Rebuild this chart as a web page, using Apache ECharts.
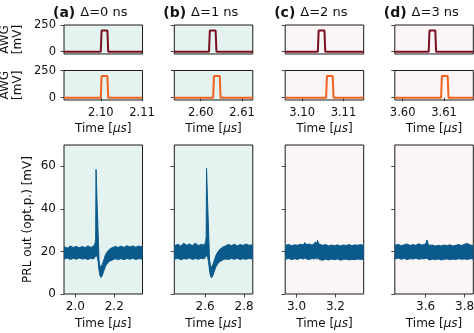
<!DOCTYPE html>
<html><head><meta charset="utf-8">
<script src="https://cdn.jsdelivr.net/npm/echarts@6/dist/echarts.min.js"></script>
<style>html,body{margin:0;padding:0;background:#fff}#c{width:474px;height:333px}</style>
</head><body><div id="c"></div>
<script>
// ---------- data ----------
const panelTags = ['(a)', '(b)', '(c)', '(d)'];
const deltaTexts = ['\u0394=0 ns', '\u0394=1 ns', '\u0394=2 ns', '\u0394=3 ns'];

// AWG zoom window (µs) and tick labels
const awgXMin = [2.0911, 2.5936, 3.0959, 3.5981];
const awgXMax = [2.1101, 2.6126, 3.1149, 3.6171];
const awgTicks = [[2.10, 2.11], [2.60, 2.61], [3.10, 3.11], [3.60, 3.61]];
const awgYTicks = [0, 250];

// AWG channel 1 (dark red) pulses: [time µs, mV]
const awgTopA = [[2.0911, 0], [2.1000, 0], [2.1002, 200], [2.1016, 200], [2.1018, 0], [2.1101, 0]];
const awgTopB = [[2.5936, 0], [2.6020, 0], [2.6022, 200], [2.6036, 200], [2.6038, 0], [2.6126, 0]];
const awgTopC = [[3.0959, 0], [3.1038, 0], [3.1040, 200], [3.1054, 200], [3.1056, 0], [3.1149, 0]];
const awgTopD = [[3.5981, 0], [3.6063, 0], [3.6065, 200], [3.6079, 200], [3.6081, 0], [3.6171, 0]];
// AWG channel 2 (orange) pulses
const awgBotA = [[2.0911, 0], [2.1000, 0], [2.1002, 200], [2.1016, 200], [2.1018, 0], [2.1101, 0]];
const awgBotB = [[2.5936, 0], [2.6030, 0], [2.6032, 200], [2.6046, 200], [2.6048, 0], [2.6126, 0]];
const awgBotC = [[3.0959, 0], [3.1058, 0], [3.1060, 200], [3.1074, 200], [3.1076, 0], [3.1149, 0]];
const awgBotD = [[3.5981, 0], [3.6093, 0], [3.6095, 200], [3.6109, 200], [3.6111, 0], [3.6171, 0]];

// PRL output windows
const sigXMin = [1.942, 2.442, 2.942, 3.442];
const sigXMax = [2.345, 2.845, 3.345, 3.845];
const sigTicks = [[2.0, 2.2], [2.6, 2.8], [3.0, 3.2], [3.6, 3.8]];
const sigYTicks = [0, 20, 40, 60];

// PRL output trace: time, lower and upper envelope of the noisy trace (mV)
const sigTimeA = [1.942, 1.96, 1.975, 1.99, 2.005, 2.02, 2.035, 2.05, 2.065, 2.08, 2.09, 2.098, 2.102, 2.1045, 2.1065, 2.112, 2.117, 2.122, 2.127, 2.132, 2.138, 2.145, 2.155, 2.165, 2.175, 2.19, 2.205, 2.22, 2.235, 2.25, 2.265, 2.28, 2.295, 2.31, 2.325, 2.345];
const sigHiA = [22.2, 21.6, 22.5, 21.9, 22.4, 21.7, 22.3, 21.8, 22.6, 21.9, 22.3, 23.0, 24.0, 26.0, 58.5, 42.4, 29.0, 15.6, 13.0, 12.7, 13.8, 15.6, 18.5, 20.0, 21.0, 21.8, 22.3, 21.9, 22.5, 21.9, 22.7, 22.1, 22.6, 22.0, 22.5, 22.2];
const sigLoA = [16.4, 16.9, 16.2, 16.8, 16.3, 16.9, 16.4, 16.7, 16.2, 16.8, 16.5, 16.8, 17.5, 18.0, 18.0, 17.5, 15.5, 11.0, 8.6, 7.8, 8.6, 10.5, 13.0, 14.5, 15.3, 16.0, 16.6, 16.2, 16.6, 16.1, 16.7, 16.3, 16.8, 16.2, 16.6, 16.4];

const sigTimeB = [2.442, 2.46, 2.475, 2.49, 2.505, 2.52, 2.535, 2.55, 2.565, 2.58, 2.59, 2.599, 2.603, 2.6055, 2.6075, 2.613, 2.618, 2.623, 2.628, 2.633, 2.639, 2.646, 2.656, 2.666, 2.676, 2.69, 2.705, 2.72, 2.735, 2.75, 2.765, 2.78, 2.795, 2.81, 2.825, 2.845];
const sigHiB = [22.6, 23.4, 22.5, 23.8, 22.9, 23.5, 22.7, 23.9, 22.8, 23.3, 23.0, 23.5, 24.5, 27.0, 59.0, 43.0, 29.5, 16.0, 13.2, 12.8, 13.6, 15.4, 18.2, 19.8, 21.0, 22.0, 22.6, 23.3, 22.7, 23.4, 22.6, 23.2, 22.8, 23.5, 22.9, 23.1];
const sigLoB = [16.3, 16.8, 16.1, 16.6, 16.4, 16.9, 16.2, 16.7, 16.3, 16.8, 16.5, 16.9, 17.6, 18.0, 18.0, 17.4, 15.2, 10.8, 8.4, 7.6, 8.4, 10.3, 12.8, 14.3, 15.2, 16.0, 16.5, 16.2, 16.7, 16.3, 16.8, 16.2, 16.6, 16.3, 16.7, 16.4];

const sigTimeC = [2.943, 2.96, 2.975, 2.99, 3.005, 3.02, 3.035, 3.042, 3.05, 3.065, 3.08, 3.09, 3.097, 3.103, 3.108, 3.113, 3.12, 3.135, 3.15, 3.165, 3.18, 3.195, 3.21, 3.225, 3.24, 3.255, 3.27, 3.285, 3.30, 3.315, 3.33, 3.345];
const sigHiC = [22.8, 23.3, 22.7, 23.1, 22.9, 23.4, 23.0, 24.2, 23.2, 23.5, 23.0, 23.6, 24.5, 23.4, 25.2, 24.0, 23.3, 22.9, 23.2, 22.6, 23.0, 22.7, 23.1, 22.6, 23.0, 22.8, 23.2, 22.7, 23.1, 22.9, 23.2, 22.8];
const sigLoC = [16.3, 16.7, 16.1, 16.6, 16.2, 16.8, 16.4, 16.9, 16.5, 16.2, 16.7, 16.4, 16.8, 16.5, 16.9, 16.4, 16.1, 15.9, 16.3, 16.0, 16.4, 16.1, 16.5, 15.9, 16.2, 16.4, 16.0, 16.3, 16.1, 16.5, 16.2, 16.4];

const sigTimeD = [3.443, 3.46, 3.475, 3.49, 3.505, 3.52, 3.535, 3.55, 3.565, 3.58, 3.595, 3.603, 3.608, 3.613, 3.62, 3.635, 3.65, 3.665, 3.68, 3.695, 3.71, 3.725, 3.74, 3.755, 3.77, 3.785, 3.80, 3.815, 3.83, 3.845];
const sigHiD = [22.9, 23.3, 22.7, 23.1, 23.5, 22.8, 23.2, 22.9, 23.6, 23.0, 23.3, 24.2, 25.4, 23.6, 22.9, 23.0, 22.5, 22.9, 22.6, 23.0, 22.7, 23.1, 22.6, 22.9, 23.2, 22.8, 23.4, 23.7, 23.0, 22.8];
const sigLoD = [16.5, 16.9, 16.3, 16.7, 16.2, 16.6, 16.4, 16.8, 16.3, 16.6, 16.5, 16.9, 16.7, 16.3, 16.0, 16.4, 16.1, 16.5, 16.0, 16.3, 16.5, 16.1, 16.4, 16.2, 16.6, 16.3, 16.5, 16.2, 16.6, 16.4];

// ---------- layout / style ----------
const awgTopSeries = [awgTopA, awgTopB, awgTopC, awgTopD];
const awgBotSeries = [awgBotA, awgBotB, awgBotC, awgBotD];
const sigTimes = [sigTimeA, sigTimeB, sigTimeC, sigTimeD];
const sigHis = [sigHiA, sigHiB, sigHiC, sigHiD];
const sigLos = [sigLoA, sigLoB, sigLoC, sigLoD];

const LEFTS = [64, 174.3, 285.2, 394.8];
const W = 78.5;
const BG = ['#e4f3ef', '#e4f3ef', '#fcf5f6', '#fcf5f6'];
const FRAME = '#1a1a1a';
const TXT = '#111';
const FONT = 'DejaVu Sans';
const C_TOP = '#7a0f1f', C_BOT = '#f0621e', C_SIG = '#0b5a8c';
const ROWS = [{top: 25, h: 29}, {top: 70.5, h: 29.5}, {top: 145, h: 149}];

const grids = [], xAxes = [], yAxes = [], series = [], titles = [];
const timeName = 'Time [{i|\u03bcs}]';
const nameRich = {i: {fontStyle: 'italic', fontFamily: FONT, fontSize: 12, color: TXT}};

function bandRenderer(c) {
  return function (params, api) {
    if (params.dataIndex !== 0) return null;
    const t = sigTimes[c], lo = sigLos[c], hi = sigHis[c];
    const pts = [];
    for (let i = 0; i < t.length; i++) pts.push(api.coord([t[i], hi[i]]));
    for (let i = t.length - 1; i >= 0; i--) pts.push(api.coord([t[i], lo[i]]));
    return {type: 'polygon', shape: {points: pts},
      style: {fill: C_SIG, stroke: C_SIG, lineWidth: 1, lineJoin: 'miter'},
      clipPath: {type: 'rect', shape: {x: params.coordSys.x, y: params.coordSys.y,
        width: params.coordSys.width, height: params.coordSys.height}}};
  };
}

for (let r = 0; r < 3; r++) {
  for (let c = 0; c < 4; c++) {
    const gi = r * 4 + c;
    grids.push({left: LEFTS[c], top: ROWS[r].top, width: W, height: ROWS[r].h,
      show: true, backgroundColor: BG[c], borderColor: FRAME, borderWidth: 1, outerBoundsMode: 'none'});
    const isSig = r === 2;
    const xa = {type: 'value', gridIndex: gi,
      min: isSig ? sigXMin[c] : awgXMin[c], max: isSig ? sigXMax[c] : awgXMax[c],
      splitLine: {show: false}, axisLine: {show: false},
      axisTick: {show: false}, axisLabel: {show: false}};
    if (r >= 1) {
      const tv = isSig ? sigTicks[c] : awgTicks[c];
      xa.axisTick = {show: true, inside: false, length: 3.5, lineStyle: {color: FRAME, width: 0.8}, customValues: tv};
      xa.axisLabel = {show: true, customValues: tv, margin: 7, color: TXT, fontFamily: FONT, fontSize: isSig ? 12 : 11.5,
        formatter: v => v.toFixed(isSig ? 1 : 2)};
      xa.name = timeName;
      xa.nameLocation = 'middle';
      xa.nameGap = isSig ? 24 : 23;
      xa.nameTextStyle = {color: TXT, fontFamily: FONT, fontSize: 12, rich: nameRich};
    }
    xAxes.push(xa);
    const ya = {type: 'value', gridIndex: gi,
      min: isSig ? 0 : -22, max: isSig ? 70 : 252,
      splitLine: {show: false}, axisLine: {show: false},
      axisTick: {show: true, inside: false, length: 3.5, lineStyle: {color: FRAME, width: 0.8},
        customValues: isSig ? sigYTicks : awgYTicks},
      axisLabel: {show: c === 0, customValues: isSig ? sigYTicks : awgYTicks, margin: 8,
        color: TXT, fontFamily: FONT, fontSize: isSig ? 12 : 11.5}};
    if (c === 0) {
      ya.name = isSig ? 'PRL out (opt.p.) [mV]' : 'AWG\n[mV]';
      ya.nameLocation = 'middle';
      ya.nameRotate = 90;
      ya.nameGap = isSig ? 30 : 40;
      ya.nameTextStyle = {color: TXT, fontFamily: FONT, fontSize: 12, lineHeight: 13};
    }
    yAxes.push(ya);

    if (r === 0 || r === 1) {
      series.push({type: 'line', xAxisIndex: gi, yAxisIndex: gi, symbol: 'none', silent: true,
        data: (r === 0 ? awgTopSeries : awgBotSeries)[c],
        lineStyle: {color: r === 0 ? C_TOP : C_BOT, width: 2}, z: 3});
    } else {
      const t = sigTimes[c], lo = sigLos[c], hi = sigHis[c];
      series.push({type: 'custom', xAxisIndex: gi, yAxisIndex: gi, silent: true,
        data: t.map((x, i) => [x, lo[i], hi[i]]),
        encode: {x: 0, y: [1, 2]},
        renderItem: bandRenderer(c), z: 3});
    }
  }
}
for (let c = 0; c < 4; c++) {
  titles.push({left: LEFTS[c] - 11, top: 4, padding: 0,
    text: '{b|' + panelTags[c] + '} {n|' + deltaTexts[c] + '}',
    textStyle: {fontWeight: 'normal', rich: {
      b: {fontFamily: FONT, fontWeight: 'bold', fontSize: 14, color: TXT},
      n: {fontFamily: FONT, fontWeight: 'normal', fontSize: 13, color: TXT}}}});
}

const chart = echarts.init(document.getElementById('c'), null, {renderer: 'canvas'});
chart.setOption({animation: false, title: titles, grid: grids, xAxis: xAxes, yAxis: yAxes, series: series});
</script></body></html>
